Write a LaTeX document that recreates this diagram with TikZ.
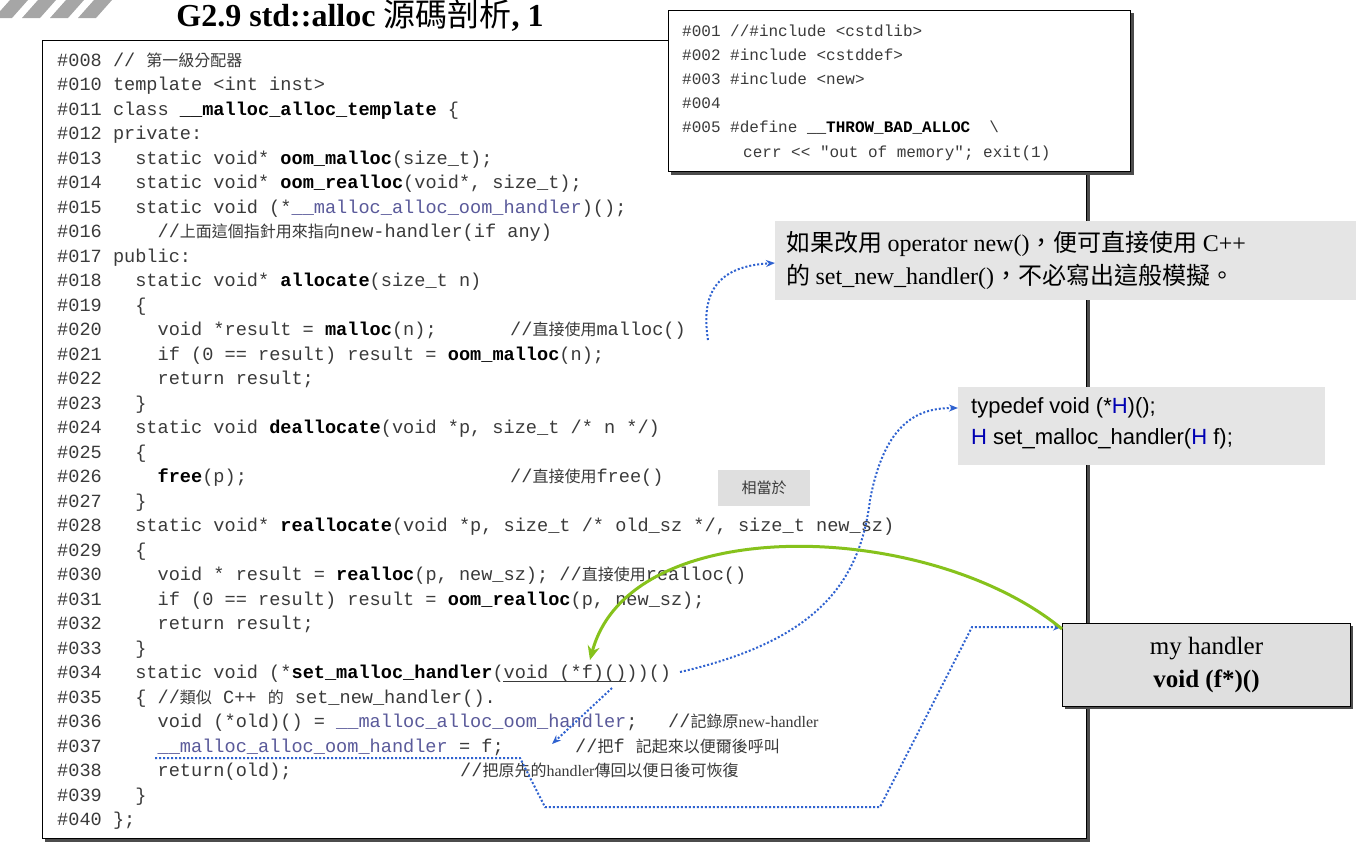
\documentclass[tikz,border=0pt]{standalone}
\usepackage{fontspec}
\setmainfont{Liberation Serif}
\newfontfamily\codef{Liberation Mono}
\newfontfamily\cjk{Noto Sans CJK TC}
\newfontfamily\sansf{Liberation Sans}
\usetikzlibrary{arrows.meta}
\definecolor{codegray}{HTML}{3A3A3A}
\definecolor{hcol}{HTML}{5A5A9A}
\definecolor{dotblue}{HTML}{2F62D0}
\definecolor{lgreen}{HTML}{86C21C}
\newcommand\kb[1]{\textbf{\color{black}#1}}
\newcommand\hn[1]{\textcolor{hcol}{#1}}
\newcommand\cj[1]{{\cjk\fontsize{16}{16}\selectfont #1}}
\begin{document}
\begin{tikzpicture}[x=1pt,y=-1pt,
  code/.style={anchor=base west,inner sep=0,text=codegray,font=\codef\fontsize{18.6}{20}\selectfont},
  scode/.style={anchor=base west,inner sep=0,text=codegray,font=\codef\fontsize{16}{18}\selectfont},
  bdot/.style={dotblue,line width=2pt,dotted,-{Stealth[length=9pt,width=7pt]}},
  ]
\useasboundingbox (0,0) rectangle (1362,863);
% stripes
\foreach \i in {0,1,2,3}{\fill[gray!70] (\i*28-6,18) -- (\i*28+10,0) -- (\i*28+28,0) -- (\i*28+12,18) -- cycle;}
\node[anchor=base,inner sep=0,font=\bfseries\fontsize{32}{32}\selectfont] (title) at (360,26) {G2.9 std::alloc {\cjk\mdseries 源碼剖析}, 1};
% main box
\fill[black!70] (45,43) rectangle (1090,842);
\node[draw=black,line width=1pt,fill=white,minimum width=1044pt,minimum height=798pt,anchor=north west,inner sep=0] (mainbox) at (42,40) {};
% top-right box
\fill[black!70] (671,13) rectangle (1134,175);
\node[draw=black,line width=1pt,fill=white,minimum width=462pt,minimum height=161pt,anchor=north west,inner sep=0] (incbox) at (668,10) {};
\node[scode] (i1) at (682,36) {\#001 //\#include <cstdlib>};
\node[scode] (i2) at (682,60) {\#002 \#include <cstddef>};
\node[scode] (i3) at (682,84) {\#003 \#include <new>};
\node[scode] (i4) at (682,108) {\#004};
\node[scode] (i5) at (682,132) {\#005 \#define \kb{\_\_THROW\_BAD\_ALLOC}~~\textbackslash};
\node[scode] (i6) at (743,157) {cerr << "out of memory"; exit(1)};
% code lines
\node[code] (l08) at (57,{66+24.5*0}) {\#008 // \cj{第一級分配器}};
\node[code] (l10) at (57,{66+24.5*1}) {\#010 template <int inst>};
\node[code] (l11) at (57,{66+24.5*2}) {\#011 class \kb{\_\_malloc\_alloc\_template} \{};
\node[code] (l12) at (57,{66+24.5*3}) {\#012 private:};
\node[code] (l13) at (57,{66+24.5*4}) {\#013~~~static void* \kb{oom\_malloc}(size\_t);};
\node[code] (l14) at (57,{66+24.5*5}) {\#014~~~static void* \kb{oom\_realloc}(void*, size\_t);};
\node[code] (l15) at (57,{66+24.5*6}) {\#015~~~static void (*\hn{\_\_malloc\_alloc\_oom\_handler})();};
\node[code] (l16) at (57,{66+24.5*7}) {\#016~~~~~//\cj{上面這個指針用來指向}new-handler(if any)};
\node[code] (l17) at (57,{66+24.5*8}) {\#017 public:};
\node[code] (l18) at (57,{66+24.5*9}) {\#018~~~static void* \kb{allocate}(size\_t n)};
\node[code] (l19) at (57,{66+24.5*10}) {\#019~~~\{};
\node[code] (l20) at (57,{66+24.5*11}) {\#020~~~~~void *result = \kb{malloc}(n);};
\node[code] (c20) at (510,{66+24.5*11}) {//\cj{直接使用}malloc()};
\node[code] (l21) at (57,{66+24.5*12}) {\#021~~~~~if (0 == result) result = \kb{oom\_malloc}(n);};
\node[code] (l22) at (57,{66+24.5*13}) {\#022~~~~~return result;};
\node[code] (l23) at (57,{66+24.5*14}) {\#023~~~\}};
\node[code] (l24) at (57,{66+24.5*15}) {\#024~~~static void \kb{deallocate}(void *p, size\_t /* n */)};
\node[code] (l25) at (57,{66+24.5*16}) {\#025~~~\{};
\node[code] (l26) at (57,{66+24.5*17}) {\#026~~~~~\kb{free}(p);};
\node[code] (c26) at (510,{66+24.5*17}) {//\cj{直接使用}free()};
\node[code] (l27) at (57,{66+24.5*18}) {\#027~~~\}};
\node[code] (l28) at (57,{66+24.5*19}) {\#028~~~static void* \kb{reallocate}(void *p, size\_t /* old\_sz */, size\_t new\_sz)};
\node[code] (l29) at (57,{66+24.5*20}) {\#029~~~\{};
\node[code] (l30) at (57,{66+24.5*21}) {\#030~~~~~void * result = \kb{realloc}(p, new\_sz); //\cj{直接使用}realloc()};
\node[code] (l31) at (57,{66+24.5*22}) {\#031~~~~~if (0 == result) result = \kb{oom\_realloc}(p, new\_sz);};
\node[code] (l32) at (57,{66+24.5*23}) {\#032~~~~~return result;};
\node[code] (l33) at (57,{66+24.5*24}) {\#033~~~\}};
\node[code] (l34) at (57,{66+24.5*25}) {\#034~~~static void (*\kb{set\_malloc\_handler}(void (*f)()))()};
\node[code] (l35) at (57,{66+24.5*26}) {\#035~~~\{ //\cj{類似} C++ \cj{的} set\_new\_handler().};
\node[code] (l36) at (57,{66+24.5*27}) {\#036~~~~~void (*old)() = \hn{\_\_malloc\_alloc\_oom\_handler};};
\node[code] (c36) at (668,{66+24.5*27}) {//\cj{記錄原}{\rmfamily\fontsize{16}{16}\selectfont new-handler}};
\node[code] (l37) at (57,{66+24.5*28}) {\#037~~~~~\hn{\_\_malloc\_alloc\_oom\_handler} = f;};
\node[code] (c37) at (575,{66+24.5*28}) {//\cj{把}f \cj{記起來以便爾後呼叫}};
\node[code] (l38) at (57,{66+24.5*29}) {\#038~~~~~return(old);};
\node[code] (c38) at (460,{66+24.5*29}) {//\cj{把原先的}{\rmfamily\fontsize{16}{16}\selectfont handler}\cj{傳回以便日後可恢復}};
\node[code] (l39) at (57,{66+24.5*30}) {\#039~~~\}};
\node[code] (l40) at (57,{66+24.5*31}) {\#040 \};};
\coordinate (u1) at (503,681); \coordinate (u2) at (626,681);
\draw[codegray,line width=0.8pt] (u1) -- (u2);
% notes
\node[fill=gray!20,minimum width=581pt,minimum height=79pt,anchor=north west,inner sep=0] (note) at (775,221) {};
\node[anchor=north west,inner sep=0,align=left,font=\fontsize{24}{33}\selectfont] (notetext) at (786,231)
 {\cjk 如果改用 {\rmfamily operator new()}，便可直接使用 {\rmfamily C++}\\ \cjk 的 {\rmfamily set\_new\_handler()}，不必寫出這般模擬。};
\node[fill=gray!20,minimum width=367pt,minimum height=78pt,anchor=north west,inner sep=0] (tdbox) at (958,387) {};
\node[anchor=north west,align=left,inner sep=0,font=\sansf\fontsize{22}{31}\selectfont] (tdtext) at (971,397)
 {typedef void (*\textcolor{blue!70!black}{H})();\\ \textcolor{blue!70!black}{H} set\_malloc\_handler(\textcolor{blue!70!black}{H} f);};
\node[fill=gray!25,minimum width=92pt,minimum height=36pt,inner sep=0,font=\cjk\fontsize{15}{15}\selectfont,text=codegray] (eq) at (764,488) {相當於};
\fill[black!70] (1065,626) rectangle (1353,709);
\node[draw=black,line width=1pt,fill=gray!25,minimum width=288pt,minimum height=83pt,anchor=north west,inner sep=0,align=center,font=\fontsize{25}{33}\selectfont] (mh) at (1062,623) {my handler\\ \textbf{void (f*)()}};
% connectors
\coordinate (a1) at (708,340);
\draw[bdot] (a1) .. controls (700,290) and (720,266) .. (note.west |- 0,263);
\coordinate (a2) at (680,672);
\coordinate (a2m) at (870,500);
\draw[bdot] (a2) .. controls (820,640) and (860,580) .. (a2m) .. controls (885,420) and (920,408) .. (tdbox.west |- 0,408);
\coordinate (a3s) at (612,688); \coordinate (a3e) at (552,744);
\draw[bdot] (a3s) -- (a3e);
\coordinate (b1) at (155,758); \coordinate (b2) at (520,758); \coordinate (b3) at (545,807);
\coordinate (b4) at (880,807); \coordinate (b5) at (972,627);
\draw[bdot] (b1) -- (b2) -- (b3) -- (b4) -- (b5) -- (mh.north west |- b5);
\coordinate (g1) at (590,660);
\draw[lgreen,line width=3pt,-{Stealth[length=14pt,width=12pt]}] ([yshift=-6pt]mh.north west) .. controls (930,520) and (630,510) .. (g1);
\end{tikzpicture}
\end{document}
